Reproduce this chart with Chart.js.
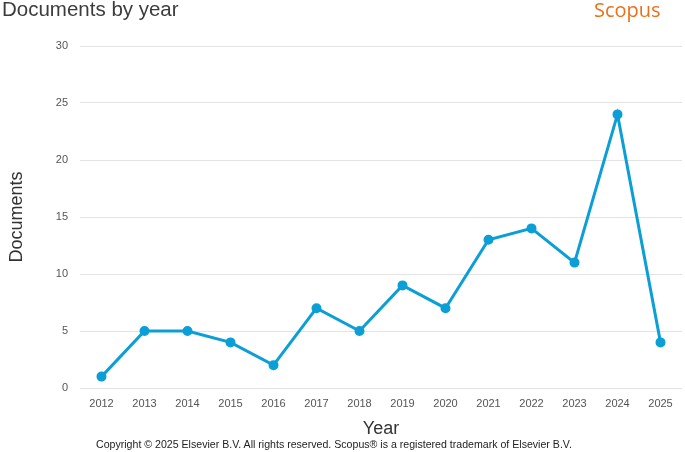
<!DOCTYPE html>
<html lang="en">
<head>
<meta charset="UTF-8">
<title>Documents by year</title>
<script src="https://cdn.jsdelivr.net/npm/chart.js"></script>
<style>
    body { margin: 0; background: #fff; }
    #wrap { position: relative; width: 685px; height: 452px; }
    #chart { position: absolute; left: 0; top: 0; }
    .lbl { position: absolute; white-space: nowrap; }
    #title { left: 2px; top: -3px; font: 20.5px "Liberation Sans", Arial, sans-serif; color: #3c3c3c; }
    #brand { left: 594px; top: -4px; font: 20px "Open Sans", sans-serif; color: #e9711c; }
    #copy { left: 96px; top: 438px; font: 10.6px "Liberation Sans", Arial, sans-serif; color: #222; }
</style>
</head>
<body>
<div id="wrap">
    <canvas id="chart" width="685" height="452"></canvas>
    <div class="lbl" id="title">Documents by year</div>
    <div class="lbl" id="brand">Scopus</div>
    <div class="lbl" id="copy">Copyright © 2025 Elsevier B.V. All rights reserved. Scopus® is a registered trademark of Elsevier B.V.</div>
</div>

<script>
    var years = ['2012', '2013', '2014', '2015', '2016', '2017', '2018', '2019', '2020', '2021', '2022', '2023', '2024', '2025'];
    var documents = [1, 5, 5, 4, 2, 7, 5, 9, 7, 13, 14, 11, 24, 4];

    var tickFont = { family: 'Liberation Sans', size: 11 };

    new Chart(document.getElementById('chart'), {
        type: 'line',
        data: {
            labels: years,
            datasets: [{
                label: 'Documents',
                data: documents,
                borderColor: '#0b9fd6',
                backgroundColor: '#0b9fd6',
                borderWidth: 3,
                pointRadius: 3.5,
                pointHoverRadius: 3.5,
                tension: 0,
                fill: false
            }]
        },
        options: {
            responsive: false,
            animation: false,
            layout: { autoPadding: false, padding: { top: 46, right: 3, bottom: 12, left: 0 } },
            plugins: {
                legend: { display: false },
                tooltip: { enabled: false }
            },
            scales: {
                x: {
                    offset: true,
                    grid: { display: false },
                    border: { display: false },
                    ticks: { color: '#555', font: tickFont, padding: 1, maxRotation: 0 },
                    title: { display: true, text: 'Year', color: '#333', font: { family: 'Liberation Sans', size: 18 }, padding: { top: 2, bottom: 0 } },
                    afterFit: function (s) { s.height = 52; }
                },
                y: {
                    min: 0,
                    max: 30,
                    grid: { color: '#e3e3e3', drawTicks: false },
                    border: { display: false },
                    ticks: { stepSize: 5, color: '#555', font: tickFont, padding: 12 },
                    title: { display: true, text: 'Documents', color: '#333', font: { family: 'Liberation Sans', size: 18 }, padding: { top: 6, bottom: 8 } },
                    afterFit: function (s) { s.width = 80; }
                }
            }
        }
    });
</script>
</body>
</html>
